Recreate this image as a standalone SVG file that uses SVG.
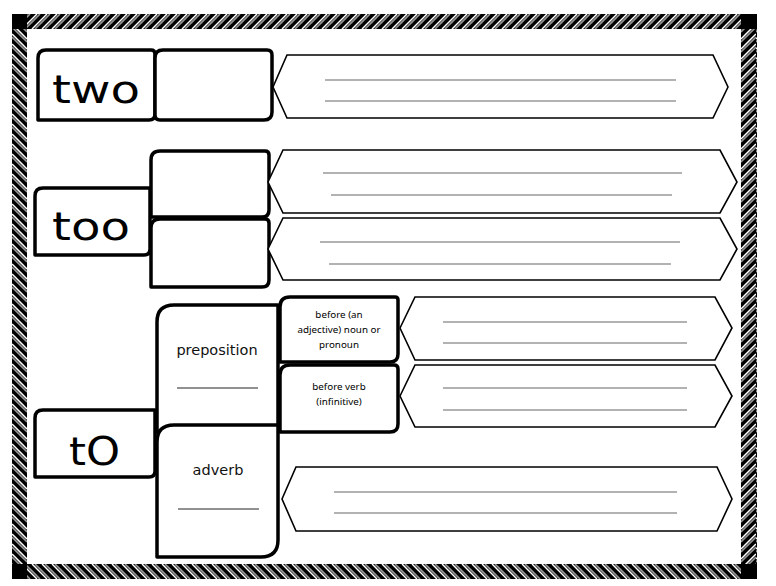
<svg xmlns="http://www.w3.org/2000/svg" width="776" height="586" viewBox="0 0 776 586">
<style>
.box{fill:#fff;stroke:#000;stroke-width:3.5;stroke-linejoin:round}
.hex{fill:#fff;stroke:#000;stroke-width:1.6;stroke-linejoin:miter}
.ln{stroke:#666;stroke-width:1.1}
.big{font-family:"DejaVu Sans","Liberation Sans",sans-serif;font-size:39px;fill:#000}
.mid{font-family:"DejaVu Sans","Liberation Sans",sans-serif;font-size:14.5px;fill:#111;text-anchor:middle}
.sm{font-family:"Noto Sans","Open Sans","Liberation Sans",sans-serif;font-size:9.8px;fill:#000;text-anchor:middle}
.ul{stroke:#222;stroke-width:1}
</style>
<defs>
<pattern id="pH" patternUnits="userSpaceOnUse" x="12" y="14" width="10" height="15">
<rect width="10" height="15" fill="#000"/>
<g stroke="#999" stroke-width="1.6"><line x1="-7" y1="15" x2="8" y2="0"/><line x1="3" y1="15" x2="18" y2="0"/><line x1="-17" y1="15" x2="-2" y2="0"/></g>
<g stroke="#fff" stroke-width="1.5"><line x1="-10" y1="15" x2="5" y2="0"/><line x1="0" y1="15" x2="15" y2="0"/><line x1="10" y1="15" x2="25" y2="0"/></g>
</pattern>
<pattern id="pB" patternUnits="userSpaceOnUse" x="12" y="564" width="10" height="15">
<rect width="10" height="15" fill="#000"/>
<g stroke="#999" stroke-width="1.6"><line x1="-7" y1="0" x2="8" y2="15"/><line x1="3" y1="0" x2="18" y2="15"/><line x1="-17" y1="0" x2="-2" y2="15"/></g>
<g stroke="#fff" stroke-width="1.5"><line x1="-10" y1="0" x2="5" y2="15"/><line x1="0" y1="0" x2="15" y2="15"/><line x1="10" y1="0" x2="25" y2="15"/></g>
</pattern>
<pattern id="pL" patternUnits="userSpaceOnUse" x="12" y="14" width="15" height="10">
<rect width="15" height="10" fill="#000"/>
<g stroke="#999" stroke-width="1.6"><line x1="0" y1="-7" x2="15" y2="8"/><line x1="0" y1="3" x2="15" y2="18"/><line x1="0" y1="-17" x2="15" y2="-2"/></g>
<g stroke="#fff" stroke-width="1.5"><line x1="0" y1="-10" x2="15" y2="5"/><line x1="0" y1="0" x2="15" y2="15"/><line x1="0" y1="10" x2="15" y2="25"/></g>
</pattern>
<pattern id="pR" patternUnits="userSpaceOnUse" x="741" y="14" width="15" height="10">
<rect width="15" height="10" fill="#000"/>
<g stroke="#999" stroke-width="1.6"><line x1="15" y1="-7" x2="0" y2="8"/><line x1="15" y1="3" x2="0" y2="18"/><line x1="15" y1="-17" x2="0" y2="-2"/></g>
<g stroke="#fff" stroke-width="1.5"><line x1="15" y1="-10" x2="0" y2="5"/><line x1="15" y1="0" x2="0" y2="15"/><line x1="15" y1="10" x2="0" y2="25"/></g>
</pattern>
</defs>
<rect width="776" height="586" fill="#fff"/>
<g id="border">
<path d="M12,14 H757 V579 H12 Z M27,29 V564 H741 V29 Z" fill="#000" fill-rule="evenodd"/>
<rect x="27" y="14" width="714" height="15" fill="url(#pH)"/>
<rect x="27" y="564" width="714" height="15" fill="url(#pB)"/>
<rect x="12" y="29" width="15" height="535" fill="url(#pL)"/>
<rect x="741" y="29" width="16" height="535" fill="url(#pR)"/>
</g>
<g id="connectors"></g>
<g id="two-row">
<g id="two">
<path class="box" d="M38,58 Q38,50 46,50 L151,50 Q155,50 155,54 L155,114 Q155,120 149,120 L38,120 Z"/>
<text class="big" x="52" y="103" textLength="88" lengthAdjust="spacingAndGlyphs">two</text>
</g>
<g id="two-def">
<path class="box" d="M155,58 Q155,50 163,50 L267,50 Q272,50 272,55 L272,112 Q272,120 264,120 L160,120 Q155,120 155,115 Z"/>
</g>
<g id="two-hex">
<polygon class="hex" points="273,87 287,55 713,55 728,87 713,118 287,118"/>
<line class="ln" x1="325" y1="80" x2="676" y2="80"/>
<line class="ln" x1="325" y1="101" x2="676" y2="101"/>
</g>
</g>
<g id="too-row">
<g id="too-def1">
<path class="box" d="M151,160 Q151,151 160,151 L265,151 Q269,151 269,155 L269,210 Q269,217 262,217 L151,217 Z"/>
</g>
<g id="too-def2">
<path class="box" d="M151,228 Q151,219 160,219 L265,219 Q269,219 269,223 L269,280 Q269,287 262,287 L151,287 Z"/>
</g>
<g id="too">
<path class="box" d="M35,196 Q35,188 43,188 L150,188 L150,249 Q150,255 144,255 L35,255 Z"/>
<text class="big" x="52" y="240" textLength="78" lengthAdjust="spacingAndGlyphs">too</text>
</g>
<g id="too-hex1">
<polygon class="hex" points="268,182 283,150 720,150 737,182 720,213 283,213"/>
<line class="ln" x1="323" y1="173" x2="682" y2="173"/>
<line class="ln" x1="331" y1="195" x2="672" y2="195"/>
</g>
<g id="too-hex2">
<polygon class="hex" points="268,249 283,218 720,218 737,249 720,280 283,280"/>
<line class="ln" x1="320" y1="242" x2="680" y2="242"/>
<line class="ln" x1="329" y1="264" x2="671" y2="264"/>
</g>
</g>
<g id="to-row">
<g id="to">
<path class="box" d="M35,418 Q35,410 43,410 L155,410 L155,471 Q155,477 149,477 L35,477 Z"/>
<text class="big" x="69" y="465" textLength="51" lengthAdjust="spacingAndGlyphs">tO</text>
</g>
<g id="preposition">
<path class="box" d="M157,322 Q157,305 174,305 L278,305 L278,432 L157,432 Z"/>
<text class="mid" x="217" y="355">preposition</text>
<line class="ul" x1="177" y1="388" x2="258" y2="388"/>
</g>
<g id="adverb">
<path class="box" d="M157,442 Q157,425 174,425 L278,425 L278,540 Q278,557 261,557 L157,557 Z"/>
<text class="mid" x="218" y="475">adverb</text>
<line class="ul" x1="178" y1="509" x2="259" y2="509"/>
</g>
<g id="before-noun">
<path class="box" d="M280,307 Q280,297 290,297 L395,297 Q398,297 398,300 L398,354 Q398,362 390,362 L280,362 Z"/>
<text class="sm" x="339" y="318">before (an</text>
<text class="sm" x="339" y="333">adjective) noun or</text>
<text class="sm" x="339" y="348">pronoun</text>
</g>
<g id="before-verb">
<path class="box" d="M280,375 Q280,365 290,365 L394,365 Q398,365 398,369 L398,424 Q398,432 390,432 L280,432 Z"/>
<text class="sm" x="339" y="390">before verb</text>
<text class="sm" x="339" y="405">(infinitive)</text>
</g>
<g id="to-hex1">
<polygon class="hex" points="400,328 415,297 715,297 732,328 715,360 415,360"/>
<line class="ln" x1="443" y1="322" x2="687" y2="322"/>
<line class="ln" x1="443" y1="343" x2="687" y2="343"/>
</g>
<g id="to-hex2">
<polygon class="hex" points="400,396 415,365 715,365 732,396 715,427 415,427"/>
<line class="ln" x1="443" y1="388" x2="687" y2="388"/>
<line class="ln" x1="443" y1="410" x2="687" y2="410"/>
</g>
<g id="to-hex3">
<polygon class="hex" points="282,499 296,467 717,467 732,499 717,531 296,531"/>
<line class="ln" x1="334" y1="492" x2="677" y2="492"/>
<line class="ln" x1="334" y1="513" x2="677" y2="513"/>
</g>
</g>
</svg>
